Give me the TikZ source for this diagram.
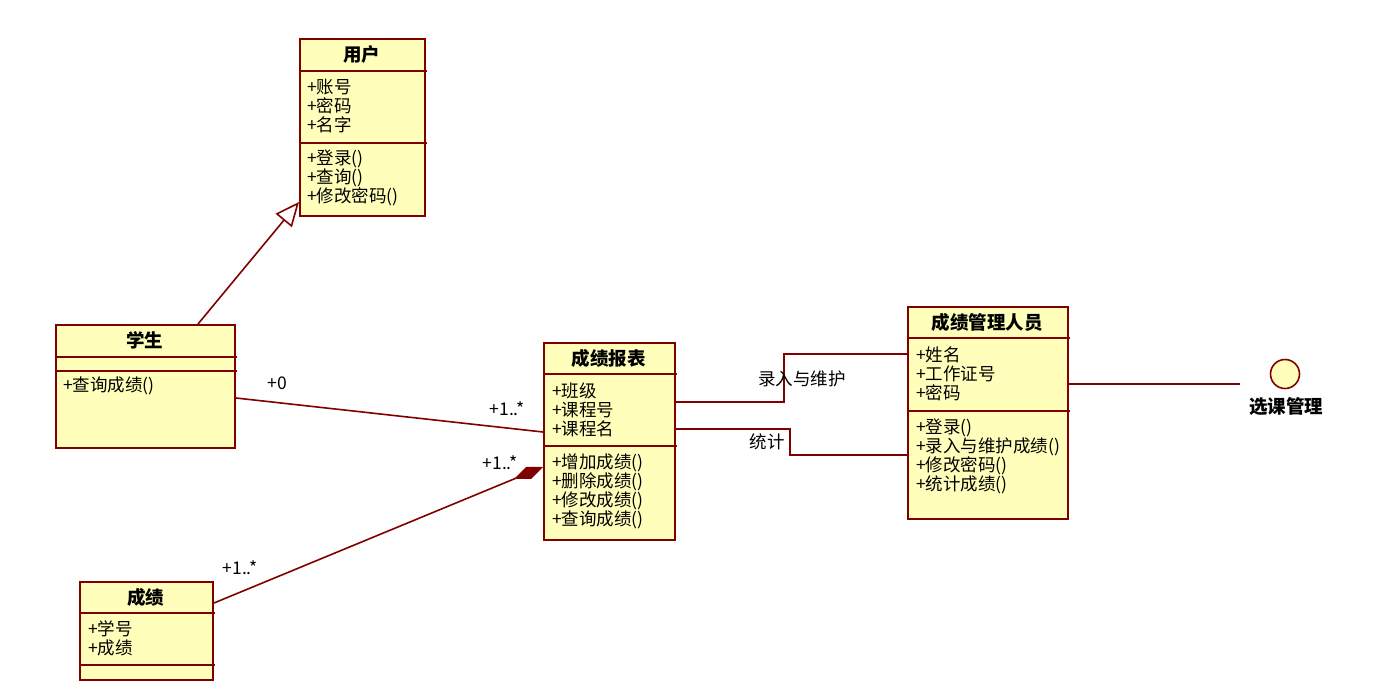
\documentclass[tikz,border=0pt]{standalone}
\usepackage{fontspec}
\setmainfont{Noto Sans CJK SC}
\usetikzlibrary{arrows.meta}
\definecolor{umlred}{RGB}{128,0,0}
\definecolor{umlfill}{RGB}{255,255,187}

\tikzset{
  classbox/.style = {draw=umlred, fill=umlfill, line width=2pt, anchor=north west, inner sep=0pt},
  classname/.style = {font=\bfseries\fontsize{18.5}{19}\selectfont},
  members/.style = {anchor=west, align=left, inner sep=0pt, font=\fontsize{17.5}{19}\selectfont},
  sep/.style = {draw=umlred, line width=2pt},
  conn/.style = {draw=umlred, line width=1.6pt},
  mult/.style = {font=\fontsize{17.5}{19}\selectfont}
}

\begin{document}
\begin{tikzpicture}[x=1pt, y=-1pt]
\useasboundingbox (0,0) rectangle (1398,681);

% classes
\node[classbox, minimum width=125pt, minimum height=177pt] (user) at (299,38) {};
\draw[sep] (user.west |- 0,71) -- ++(128,0);
\draw[sep] (user.west |- 0,143) -- ++(128,0);
\node[classname] (user-t) at (361.5,54.5) {用户};
\node[members] (user-a) at (307,106) {+账号\\+密码\\+名字};
\node[members] (user-m) at (307,177.5) {+登录()\\+查询()\\+修改密码()};

\node[classbox, minimum width=179pt, minimum height=123pt] (student) at (55,324) {};
\draw[sep] (student.west |- 0,357) -- ++(182,0);
\draw[sep] (student.west |- 0,371) -- ++(182,0);
\node[classname] (student-t) at (144.5,340.5) {学生};
\node[members] (student-m) at (63,386) {+查询成绩()};

\node[classbox, minimum width=131pt, minimum height=197pt] (report) at (543,342) {};
\draw[sep] (report.west |- 0,374) -- ++(134,0);
\draw[sep] (report.west |- 0,446) -- ++(134,0);
\node[classname] (report-t) at (608.5,358) {成绩报表};
\node[members] (report-a) at (552,409.5) {+班级\\+课程号\\+课程名};
\node[members] (report-m) at (552,491.5) {+增加成绩()\\+删除成绩()\\+修改成绩()\\+查询成绩()};

\node[classbox, minimum width=160pt, minimum height=212pt] (admin) at (907,306) {};
\draw[sep] (admin.west |- 0,338) -- ++(163,0);
\draw[sep] (admin.west |- 0,411) -- ++(163,0);
\node[classname] (admin-t) at (987,322) {成绩管理人员};
\node[members] (admin-a) at (916,374) {+姓名\\+工作证号\\+密码};
\node[members] (admin-m) at (916,456) {+登录()\\+录入与维护成绩()\\+修改密码()\\+统计成绩()};

\node[classbox, minimum width=133pt, minimum height=98pt] (score) at (79,581) {};
\draw[sep] (score.west |- 0,613) -- ++(136,0);
\draw[sep] (score.west |- 0,665) -- ++(136,0);
\node[classname] (score-t) at (145.5,597) {成绩};
\node[members] (score-a) at (88,638) {+学号\\+成绩};

% interface
\node[circle, draw=umlred, fill=umlfill, line width=1.6pt, minimum size=29pt, inner sep=0pt] (iface) at (1285,374) {};
\node[classname] (iface-t) at (1286,407) {选课管理};
\coordinate (iface-end) at (1240,384);

% connectors
\draw[conn, -{Triangle[open, length=24pt, width=21pt, fill=white]}] (student.north -| 198,0) -- (user.west |- 0,202);
\draw[conn] (student.east |- 0,398) -- (report.west |- 0,432);
\draw[conn, -{Diamond[length=31pt, width=13pt, fill=umlred]}] (score.east |- 0,603) -- (report.west |- 0,467);
\draw[conn] (report.east |- 0,402) -- ++(108,0) |- (admin.west |- 0,354);
\draw[conn] (report.east |- 0,429) -- ++(114,0) |- (admin.west |- 0,455);
\draw[conn] (admin.east |- 0,384) -- (iface-end);

% labels
\node[mult] (m1) at (277,383) {+0};
\node[mult] (m2) at (507,409) {+1..*};
\node[mult] (m3) at (500,463) {+1..*};
\node[mult] (m4) at (240,568) {+1..*};
\node[mult] (l1) at (802,379) {录入与维护};
\node[mult] (l2) at (767,442) {统计};
\end{tikzpicture}
\end{document}
